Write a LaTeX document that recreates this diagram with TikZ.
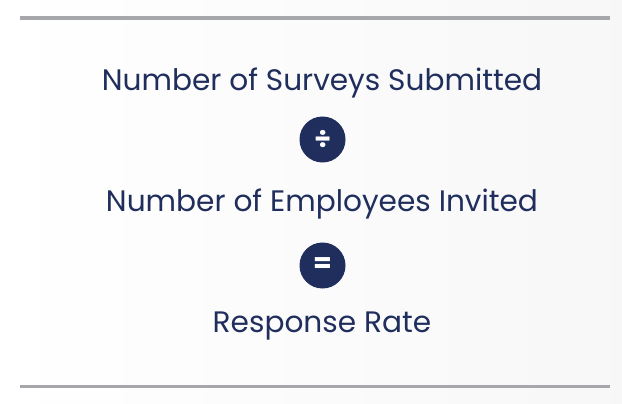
\documentclass[tikz,border=0pt]{standalone}
\usepackage{fontspec}
\setmainfont{Poppins}
\usepackage{xcolor}
\usetikzlibrary{positioning,calc}
\definecolor{ratenavy}{HTML}{1F2E5C}
\definecolor{rulegray}{HTML}{A6A7AA}
\tikzset{
  ratetext/.style={text=ratenavy, font=\fontsize{29.6}{34}\selectfont, anchor=base, inner sep=0pt},
  opcircle/.style={circle, fill=ratenavy, minimum size=46pt, inner sep=0pt, text=white, font=\fontsize{27}{30}\selectfont\bfseries},
  raterule/.style={draw=rulegray, line width=3.5pt},
}
\begin{document}
\begin{tikzpicture}[x=1pt, y=-1pt]
  % Background
  \shade[left color=white, right color=gray!6] (0,0) rectangle (622,404);
  \useasboundingbox (0,0) rectangle (622,404);

  % Rules
  \coordinate (TRL) at (20,18);
  \coordinate (TRR) at (610,18);
  \coordinate (BRL) at (20,386.5);
  \coordinate (BRR) at (610,386.5);
  \draw[raterule] (TRL) -- (TRR);
  \draw[raterule] (BRL) -- (BRR);

  % Formula
  \node[ratetext] (submitted) at (322,91) {Number of Surveys Submitted};
  \node[opcircle] (divide) at (322.5,139.5) {÷};
  \node[ratetext] (invited) at (322,211.5) {Number of Employees Invited};
  \node[opcircle] (equals) at (322.5,265.5) {=};
  \node[ratetext] (rate) at (322,332) {Response Rate};
\end{tikzpicture}
\end{document}
